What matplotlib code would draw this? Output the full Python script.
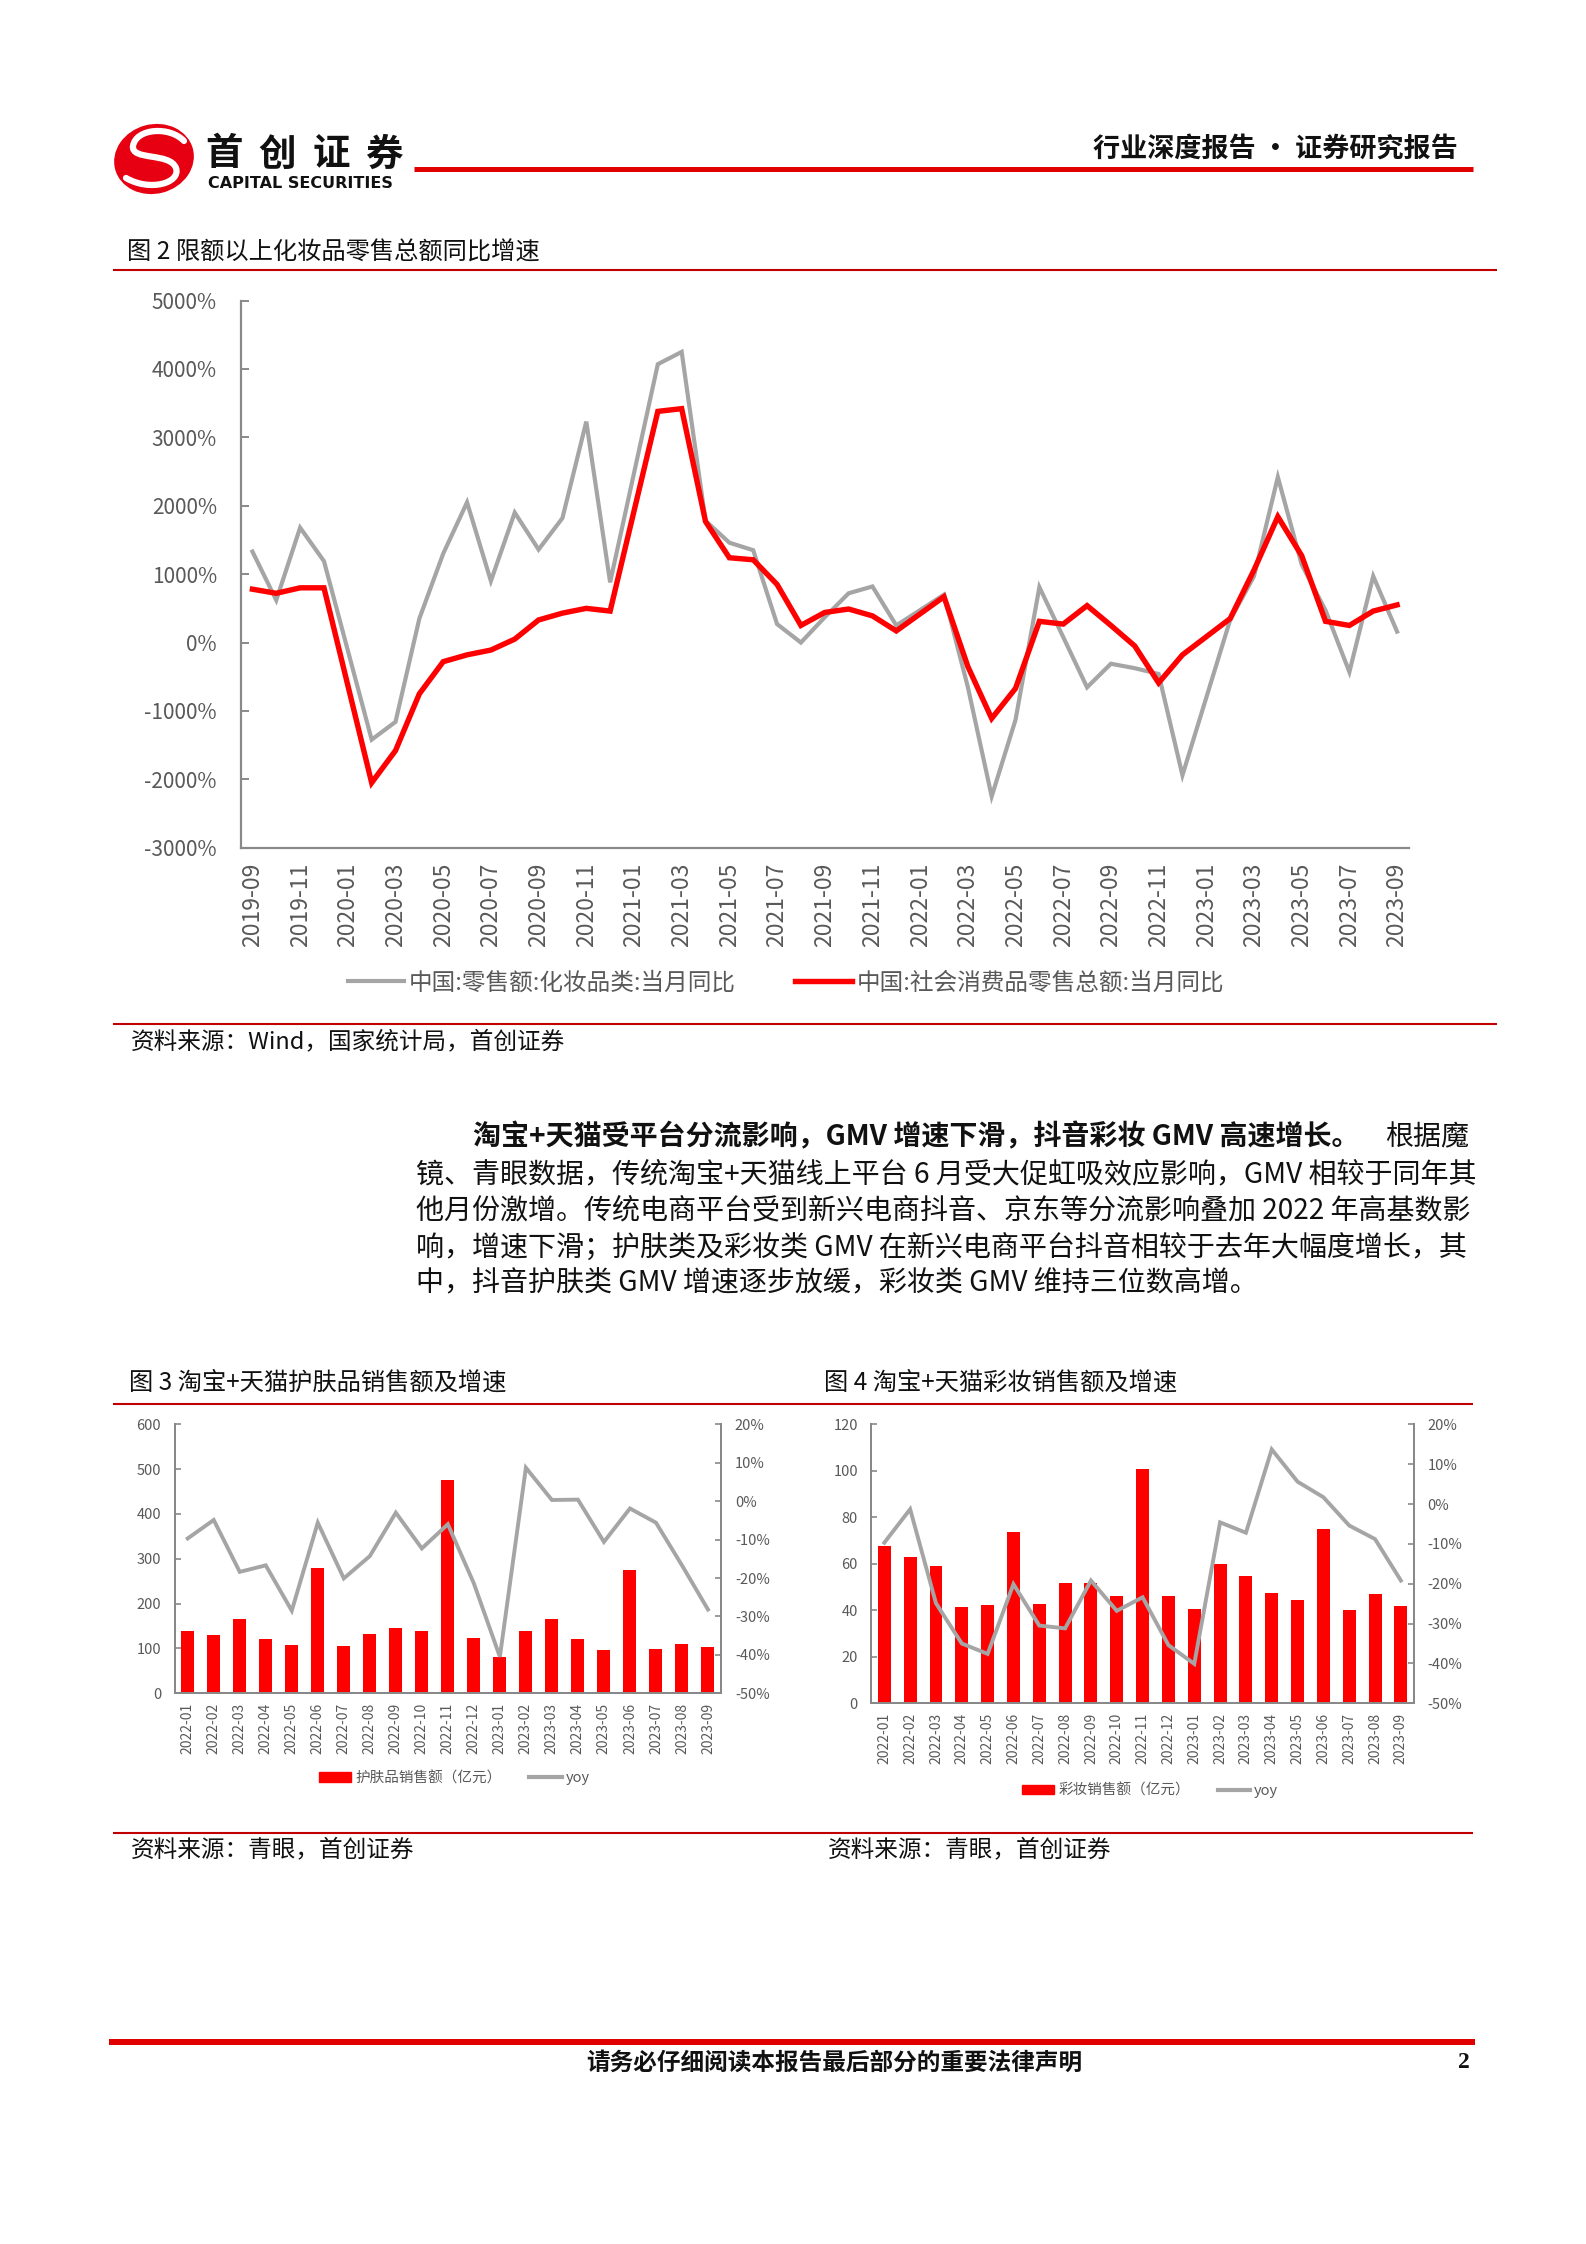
import matplotlib
matplotlib.use('Agg')
import matplotlib.pyplot as plt
from matplotlib.patches import Ellipse, PathPatch, Patch
from matplotlib.path import Path
from matplotlib.lines import Line2D

plt.rcParams['font.family'] = ['Noto Sans CJK SC', 'DejaVu Sans']
plt.rcParams['axes.unicode_minus'] = False

# ---------------- data ----------------
months = ['2019-09', '2019-10', '2019-11', '2019-12',
          '2020-01', '2020-02', '2020-03', '2020-04', '2020-05', '2020-06',
          '2020-07', '2020-08', '2020-09', '2020-10', '2020-11', '2020-12',
          '2021-01', '2021-02', '2021-03', '2021-04', '2021-05', '2021-06',
          '2021-07', '2021-08', '2021-09', '2021-10', '2021-11', '2021-12',
          '2022-01', '2022-02', '2022-03', '2022-04', '2022-05', '2022-06',
          '2022-07', '2022-08', '2022-09', '2022-10', '2022-11', '2022-12',
          '2023-01', '2023-02', '2023-03', '2023-04', '2023-05', '2023-06',
          '2023-07', '2023-08', '2023-09']
cosmetics_yoy = [1330, 620, 1680, 1190,
                 None, -1420, -1160, 350, 1300, 2050, 900, 1900, 1360, 1820, 3230, 880,
                 None, 4070, 4250, 1780, 1460, 1350, 270, 0, 370, 720, 820, 250,
                 None, 700, -650, -2250, -1130, 810, 80, -655, -310, -375, -460, -1940,
                 None, 330, 970, 2420, 1140, 470, -430, 970, 160]
retail_yoy = [780, 720, 800, 800,
              None, -2050, -1580, -750, -280, -180, -110, 50, 330, 430, 500, 460,
              None, 3380, 3420, 1770, 1240, 1210, 850, 250, 440, 490, 390, 170,
              None, 670, -350, -1110, -670, 310, 270, 540, 250, -50, -590, -180,
              None, 350, 1060, 1840, 1270, 310, 250, 460, 550]
main_yticks = [-3000, -2000, -1000, 0, 1000, 2000, 3000, 4000, 5000]
legend_main = ['中国:零售额:化妆品类:当月同比', '中国:社会消费品零售总额:当月同比']

bar_months = ['2022-01', '2022-02', '2022-03', '2022-04', '2022-05', '2022-06',
              '2022-07', '2022-08', '2022-09', '2022-10', '2022-11', '2022-12',
              '2023-01', '2023-02', '2023-03', '2023-04', '2023-05', '2023-06',
              '2023-07', '2023-08', '2023-09']
skin_sales = [139, 129, 165, 121, 107, 279, 106, 132, 145, 138, 476, 123,
              82, 139, 165, 121, 97, 274, 98, 109, 104]
skin_yoy = [-9.7, -4.9, -18.4, -16.7, -28.5, -5.6, -20.1, -14.3, -3.0, -12.3, -6.0, -21.4,
            -40.5, 8.7, 0.3, 0.4, -10.6, -1.9, -5.6, -16.7, -28.2]
makeup_sales = [67.8, 62.8, 59.2, 41.6, 42.3, 73.8, 42.6, 51.8, 51.8, 46.2, 100.8, 46.2,
                40.4, 59.9, 54.9, 47.6, 44.4, 74.8, 40.1, 47.2, 41.9]
makeup_yoy = [-9.7, -1.3, -24.9, -35.0, -37.6, -20.1, -30.5, -31.2, -19.2, -26.8, -23.4, -35.4,
              -40.1, -4.6, -7.2, 13.7, 5.6, 1.7, -5.4, -8.8, -19.2]
yoy_ticks = [-50, -40, -30, -20, -10, 0, 10, 20]

paragraph = [
    [('淘宝+天猫受平台分流影响，GMV 增速下滑，抖音彩妆 GMV 高速增长。', 'bold'), ('根据魔', 'normal')],
    [('镜、青眼数据，传统淘宝+天猫线上平台 6 月受大促虹吸效应影响，GMV 相较于同年其', 'normal')],
    [('他月份激增。传统电商平台受到新兴电商抖音、京东等分流影响叠加 2022 年高基数影', 'normal')],
    [('响，增速下滑；护肤类及彩妆类 GMV 在新兴电商平台抖音相较于去年大幅度增长，其', 'normal')],
    [('中，抖音护肤类 GMV 增速逐步放缓，彩妆类 GMV 维持三位数高增。', 'normal')],
]

# ---------------- styles ----------------
RED = '#FF0000'
GRAY = '#A5A5A5'
AXC = '#898989'
TXT = '#595959'
DARKRED = '#C00000'

W, H = 1586, 2244
fig = plt.figure(figsize=(W / 100, H / 100), dpi=100)
fig.patch.set_facecolor('white')


def fx(x):
    return x / W


def fy(y):
    return 1 - y / H


def box(l, t, r, b):
    return [fx(l), fy(b), (r - l) / W, (b - t) / H]


def hline(x0, x1, y, lw, color):
    fig.add_artist(Line2D([fx(x0), fx(x1)], [fy(y), fy(y)], transform=fig.transFigure,
                          color=color, lw=lw, solid_capstyle='butt'))


# ---------------- header ----------------
lax = fig.add_axes(box(105, 115, 205, 200))
lax.set_xlim(105, 205)
lax.set_ylim(200, 115)
lax.axis('off')
lax.add_patch(Ellipse((154, 159), 79, 68, angle=-15, color='#E60012'))
s_path = Path([(184, 141), (170, 126), (136, 128), (133, 146),
               (131, 161), (170, 152), (176, 168),
               (181, 183), (150, 192), (126, 178)],
              [Path.MOVETO, Path.CURVE4, Path.CURVE4, Path.CURVE4,
               Path.CURVE4, Path.CURVE4, Path.CURVE4,
               Path.CURVE4, Path.CURVE4, Path.CURVE4])
lax.add_patch(PathPatch(s_path, fill=False, edgecolor='white', lw=4.5, capstyle='round'))

for ch, cx in zip('首创证券', [224, 277, 331, 384]):
    fig.text(fx(cx), fy(154), ch, fontsize=27, fontweight='bold', color='#111111',
             ha='center', va='center')
fig.text(fx(208), fy(184), 'CAPITAL SECURITIES', fontsize=11.5, fontweight='bold',
         family=['DejaVu Sans'], color='#111111', ha='left', va='center')
hline(414, 1473, 169, 3.6, '#E00000')
fig.text(fx(1458), fy(149), '行业深度报告 · 证券研究报告', fontsize=19.5, fontweight='bold',
         color='#111111', ha='right', va='center')

# ---------------- figure 2 ----------------
fig.text(fx(127), fy(253), '图 2 限额以上化妆品零售总额同比增速', fontsize=17.5,
         color='#111111', ha='left', va='center')
hline(113, 1497, 270, 1.5, DARKRED)

ax = fig.add_axes(box(240.5, 300.6, 1409, 847.7))
xs = list(range(len(months)))
gx = [x for x, v in zip(xs, cosmetics_yoy) if v is not None]
gv = [v for v in cosmetics_yoy if v is not None]
rx = [x for x, v in zip(xs, retail_yoy) if v is not None]
rv = [v for v in retail_yoy if v is not None]
l1, = ax.plot(gx, gv, color=GRAY, lw=3.0, solid_joinstyle='miter', zorder=2)
l2, = ax.plot(rx, rv, color=RED, lw=3.9, solid_joinstyle='miter', zorder=3)
ax.set_xlim(-0.5, len(months) - 0.5)
ax.set_ylim(-3000, 5000)
ax.set_yticks(main_yticks)
ax.set_yticklabels([f'{v}%' for v in main_yticks])
ax.set_xticks(xs[::2])
ax.set_xticklabels(months[::2], rotation=90)
for sp in ['top', 'right']:
    ax.spines[sp].set_visible(False)
for sp in ['left', 'bottom']:
    ax.spines[sp].set_color(AXC)
    ax.spines[sp].set_linewidth(1.6)
ax.tick_params(axis='y', direction='in', length=5.5, width=1.4, color=AXC,
               labelsize=15, labelcolor=TXT, pad=17)
ax.tick_params(axis='x', length=0, labelsize=16.5, labelcolor=TXT, pad=11)
fig.legend([l1, l2], legend_main, loc='center', bbox_to_anchor=(fx(786), fy(983)),
           bbox_transform=fig.transFigure, ncol=2, frameon=False, fontsize=17,
           labelcolor=TXT, handlelength=2.4, handletextpad=0.2, columnspacing=2.5)
hline(113, 1497, 1024, 1.5, DARKRED)
fig.text(fx(131), fy(1042), '资料来源：Wind，国家统计局，首创证券', fontsize=17,
         color='#111111', ha='left', va='center', style='italic')

# ---------------- paragraph ----------------
renderer = fig.canvas.get_renderer()
line_y = [1135, 1171.7, 1208.3, 1245.7, 1281]
line_x = [473, 416, 416, 416, 416]
pfs = 20.2
em = pfs * 100 / 72
for li, (segs, yc, x0) in enumerate(zip(paragraph, line_y, line_x)):
    cur = x0
    for si, (txt, wt) in enumerate(segs):
        if li == 0 and si == len(segs) - 1:
            fig.text(fx(1469), fy(yc + 0.36 * em), txt, fontsize=pfs, fontweight=wt,
                     color='#111111', ha='right', va='baseline')
            continue
        t = fig.text(fx(cur), fy(yc + 0.36 * em), txt, fontsize=pfs, fontweight=wt,
                     color='#111111', ha='left', va='baseline')
        bb = t.get_window_extent(renderer)
        cur = cur + bb.width + 0.05 * em

# ---------------- figure 3 & 4 ----------------
fig.text(fx(128.6), fy(1383), '图 3 淘宝+天猫护肤品销售额及增速', fontsize=17.5,
         color='#111111', ha='left', va='center')
fig.text(fx(824.5), fy(1383), '图 4 淘宝+天猫彩妆销售额及增速', fontsize=17.5,
         color='#111111', ha='left', va='center')
hline(113, 1473, 1404, 1.5, DARKRED)


def bar_chart(rect, sales, yoy, ymax, ystep, label, leg_xy):
    a = fig.add_axes(rect)
    bx = list(range(len(bar_months)))
    a.bar(bx, sales, width=0.5, color=RED, zorder=2)
    a.set_xlim(-0.5, len(bar_months) - 0.5)
    a.set_ylim(0, ymax)
    a.set_yticks(list(range(0, ymax + 1, ystep)))
    a.set_xticks(bx)
    a.set_xticklabels(bar_months, rotation=90)
    b = a.twinx()
    b.plot(bx, yoy, color=GRAY, lw=2.8, solid_joinstyle='miter', zorder=3)
    b.set_ylim(-50, 20)
    b.set_yticks(yoy_ticks)
    b.set_yticklabels([f'{v}%' for v in yoy_ticks])
    for ax_ in (a, b):
        ax_.spines['top'].set_visible(False)
        for sp in ['left', 'right', 'bottom']:
            ax_.spines[sp].set_color(AXC)
            ax_.spines[sp].set_linewidth(1.4)
    a.tick_params(axis='y', direction='in', length=4, width=1.2, color=AXC,
                  labelsize=10.5, labelcolor=TXT, pad=9.7)
    b.tick_params(axis='y', direction='in', length=4, width=1.2, color=AXC,
                  labelsize=10.5, labelcolor=TXT, pad=10)
    a.tick_params(axis='x', length=0, labelsize=10, labelcolor=TXT, pad=7)
    fig.legend([Patch(color=RED), Line2D([0], [0], color=GRAY, lw=3)], [label, 'yoy'],
               loc='center', bbox_to_anchor=leg_xy, bbox_transform=fig.transFigure,
               ncol=2, frameon=False, fontsize=10.5, labelcolor=TXT,
               handlelength=2.2, handleheight=0.6, handletextpad=0.3, columnspacing=1.9)
    return a, b


bar_chart(box(174.7, 1424.3, 721, 1693.3), skin_sales, skin_yoy, 600, 100,
          '护肤品销售额（亿元）', (fx(454.5), fy(1778)))
bar_chart(box(871.4, 1424.3, 1413.8, 1703.3), makeup_sales, makeup_yoy, 120, 20,
          '彩妆销售额（亿元）', (fx(1150), fy(1790.7)))

hline(113, 1473, 1833, 1.5, DARKRED)
fig.text(fx(131), fy(1850), '资料来源：青眼，首创证券', fontsize=17,
         color='#111111', ha='left', va='center', style='italic')
fig.text(fx(828), fy(1850), '资料来源：青眼，首创证券', fontsize=17,
         color='#111111', ha='left', va='center', style='italic')

# ---------------- footer ----------------
hline(109, 1475, 2042, 4.3, '#E00000')
fig.text(fx(834), fy(2063), '请务必仔细阅读本报告最后部分的重要法律声明', fontsize=17,
         fontweight='bold', color='#111111', ha='center', va='center')
fig.text(fx(1470), fy(2063), '2', fontsize=17, fontweight='bold', color='#111111',
         ha='right', va='center', family=['Liberation Serif', 'DejaVu Serif'])

fig.savefig('out.png', dpi=100, facecolor='white')
